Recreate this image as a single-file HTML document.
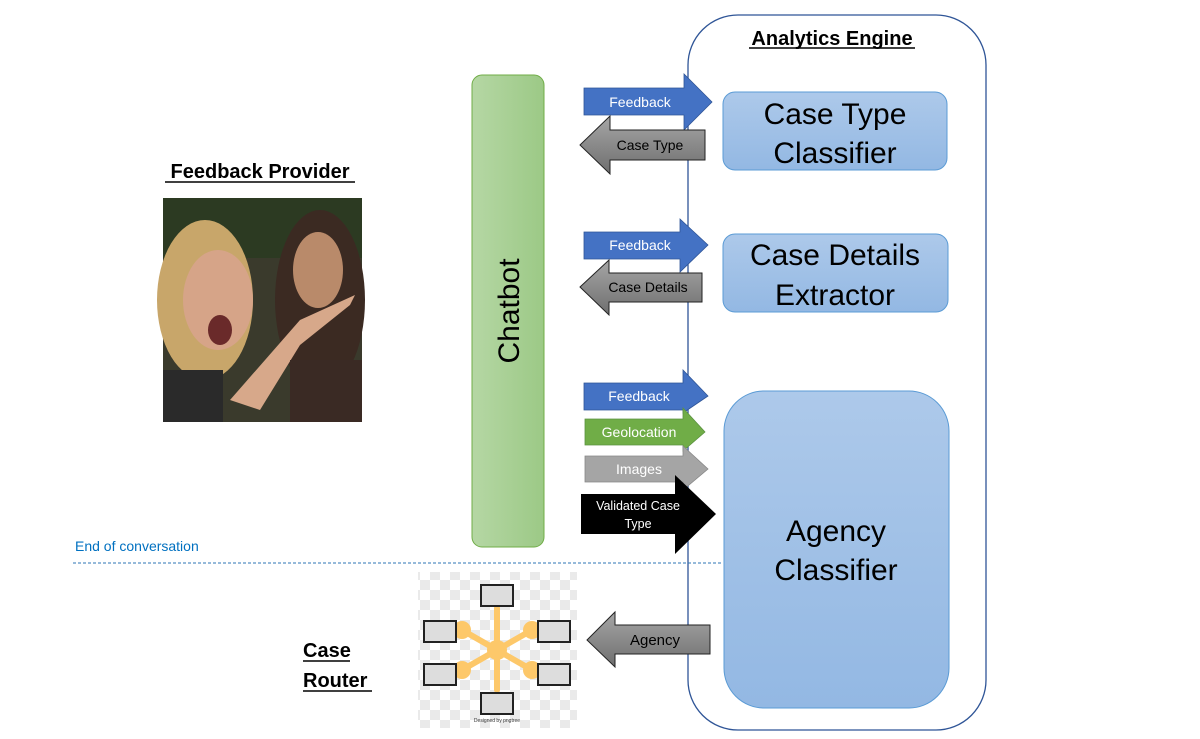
<!DOCTYPE html>
<html><head><meta charset="utf-8"><style>
html,body{margin:0;padding:0;background:#fff;}
svg{display:block;font-family:"Liberation Sans","DejaVu Sans",sans-serif;}
</style></head><body>
<svg width="1200" height="739" viewBox="0 0 1200 739" xmlns="http://www.w3.org/2000/svg">
<defs>
<linearGradient id="gg" x1="0" x2="1" y1="0" y2="0"><stop offset="0" stop-color="#b5d7a4"/><stop offset="1" stop-color="#9cc986"/></linearGradient>
<linearGradient id="bg" x1="0" x2="0" y1="0" y2="1"><stop offset="0" stop-color="#adc9ea"/><stop offset="1" stop-color="#93b8e3"/></linearGradient>
<linearGradient id="gr" x1="0" x2="0" y1="0" y2="1"><stop offset="0" stop-color="#a6a6a6"/><stop offset="1" stop-color="#6e6e6e"/></linearGradient>
<pattern id="chk" width="20" height="20" patternUnits="userSpaceOnUse"><rect width="20" height="20" fill="#fff"/><rect width="10" height="10" fill="#eaeaea"/><rect x="10" y="10" width="10" height="10" fill="#eaeaea"/></pattern>
</defs>

<!-- Analytics engine -->
<rect x="688" y="15" width="298" height="715" rx="50" fill="#fff" stroke="#2f5597" stroke-width="1.3"/>
<text x="832" y="45" font-size="20" font-weight="bold" text-anchor="middle" fill="#000">Analytics Engine</text>
<line x1="749" y1="48" x2="915" y2="48" stroke="#000" stroke-width="1.5"/>

<!-- Chatbot -->
<rect x="472" y="75" width="72" height="472" rx="10" fill="url(#gg)" stroke="#70ad47" stroke-width="1"/>
<text transform="translate(519,311) rotate(-90)" font-size="30" text-anchor="middle" fill="#000">Chatbot</text>

<!-- classifiers -->
<rect x="723" y="92" width="224" height="78" rx="12" fill="url(#bg)" stroke="#5b9bd5" stroke-width="1"/>
<text x="835" y="124" font-size="30" text-anchor="middle">Case Type</text>
<text x="835" y="163" font-size="30" text-anchor="middle">Classifier</text>
<rect x="723" y="234" width="225" height="78" rx="12" fill="url(#bg)" stroke="#5b9bd5" stroke-width="1"/>
<text x="835" y="265" font-size="30" text-anchor="middle">Case Details</text>
<text x="835" y="305" font-size="30" text-anchor="middle">Extractor</text>
<rect x="724" y="391" width="225" height="317" rx="40" fill="url(#bg)" stroke="#5b9bd5" stroke-width="1"/>
<text x="836" y="541" font-size="30" text-anchor="middle">Agency</text>
<text x="836" y="580" font-size="30" text-anchor="middle">Classifier</text>

<!-- arrows -->
<g font-size="14" text-anchor="middle">
<polygon points="584,88 684,88 684,74 712,102 684,130 684,115 584,115" fill="#4472c4" stroke="#2f5597" stroke-width="0.8"/>
<text x="640" y="107" fill="#fff">Feedback</text>
<polygon points="705,130 610,130 610,116 580,145 610,174 610,160 705,160" fill="url(#gr)" stroke="#222" stroke-width="1"/>
<text x="650" y="150" fill="#000">Case Type</text>

<polygon points="584,232 680,232 680,219 708,245 680,272 680,259 584,259" fill="#4472c4" stroke="#2f5597" stroke-width="0.8"/>
<text x="640" y="250" fill="#fff">Feedback</text>
<polygon points="702,273 609,273 609,260 580,287 609,315 609,302 702,302" fill="url(#gr)" stroke="#222" stroke-width="1"/>
<text x="648" y="292" fill="#000">Case Details</text>

<polygon points="584,383 683,383 683,370 708,396 683,413 683,410 584,410" fill="#4472c4" stroke="#2f5597" stroke-width="0.8"/>
<text x="639" y="401" fill="#fff">Feedback</text>
<polygon points="585,419 683,419 683,408 705,432 683,451 683,445 585,445" fill="#70ad47" stroke="#5b9240" stroke-width="0.8"/>
<text x="639" y="437" fill="#fff">Geolocation</text>
<polygon points="585,456 683,456 683,446 708,469 683,490 683,482 585,482" fill="#a5a5a5" stroke="#888" stroke-width="0.8"/>
<text x="639" y="474" fill="#fff">Images</text>
<polygon points="581,494 675,494 675,475 716,514 675,554 675,534 581,534" fill="#000"/>
<text x="638" y="510" fill="#fff" font-size="12.5">Validated Case</text>
<text x="638" y="528" fill="#fff" font-size="12.5">Type</text>

<polygon points="710,625 615,625 615,612 587,640 615,667 615,654 710,654" fill="url(#gr)" stroke="#222" stroke-width="1"/>
<text x="655" y="645" fill="#000" font-size="15">Agency</text>
</g>

<!-- end of conversation -->
<text x="75" y="551" font-size="14" fill="#0070c0">End of conversation</text>
<line x1="73" y1="563" x2="722" y2="563" stroke="#2e75b6" stroke-width="1" stroke-dasharray="3,2"/>

<!-- feedback provider -->
<text x="260" y="178" font-size="20" font-weight="bold" text-anchor="middle">Feedback Provider</text>
<line x1="165" y1="182" x2="355" y2="182" stroke="#000" stroke-width="1.5"/>
<rect x="163" y="198" width="199" height="224" fill="#3a3a2c"/>
<rect x="163" y="198" width="199" height="60" fill="#2c3a22"/>
<ellipse cx="320" cy="300" rx="45" ry="90" fill="#3b2a22"/>
<ellipse cx="318" cy="270" rx="25" ry="38" fill="#b98a6a"/>
<ellipse cx="205" cy="300" rx="48" ry="80" fill="#c8a66a"/>
<ellipse cx="218" cy="300" rx="35" ry="50" fill="#d6a488"/>
<ellipse cx="220" cy="330" rx="12" ry="15" fill="#6a2a2a"/>
<polygon points="230,400 300,320 355,295 350,305 300,345 260,410" fill="#d7a88a"/>
<rect x="163" y="370" width="60" height="52" fill="#2a2a2a"/>
<rect x="290" y="360" width="72" height="62" fill="#3a2a24"/>

<!-- case router -->
<text x="303" y="657" font-size="20" font-weight="bold">Case</text>
<line x1="303" y1="661" x2="350" y2="661" stroke="#000" stroke-width="1.5"/>
<text x="303" y="687" font-size="20" font-weight="bold">Router</text>
<line x1="303" y1="691" x2="372" y2="691" stroke="#000" stroke-width="1.5"/>

<rect x="418" y="572" width="159" height="156" fill="url(#chk)"/>
<g stroke="#fdc86a" stroke-width="6" stroke-linecap="round">
<line x1="497" y1="608" x2="497" y2="690"/>
<line x1="462" y1="630" x2="532" y2="670"/>
<line x1="462" y1="670" x2="532" y2="630"/>
</g>
<circle cx="497" cy="650" r="10" fill="#fdc86a"/>
<circle cx="462" cy="630" r="9" fill="#fdc86a"/><circle cx="532" cy="630" r="9" fill="#fdc86a"/>
<circle cx="462" cy="670" r="9" fill="#fdc86a"/><circle cx="532" cy="670" r="9" fill="#fdc86a"/>
<g fill="#ddd" stroke="#222" stroke-width="2">
<rect x="481" y="585" width="32" height="21"/>
<rect x="424" y="621" width="32" height="21"/>
<rect x="538" y="621" width="32" height="21"/>
<rect x="424" y="664" width="32" height="21"/>
<rect x="538" y="664" width="32" height="21"/>
<rect x="481" y="693" width="32" height="21"/>
</g>
<text x="497" y="722" font-size="5" text-anchor="middle" fill="#333">Designed by pngtree</text>
</svg>
</body></html>
